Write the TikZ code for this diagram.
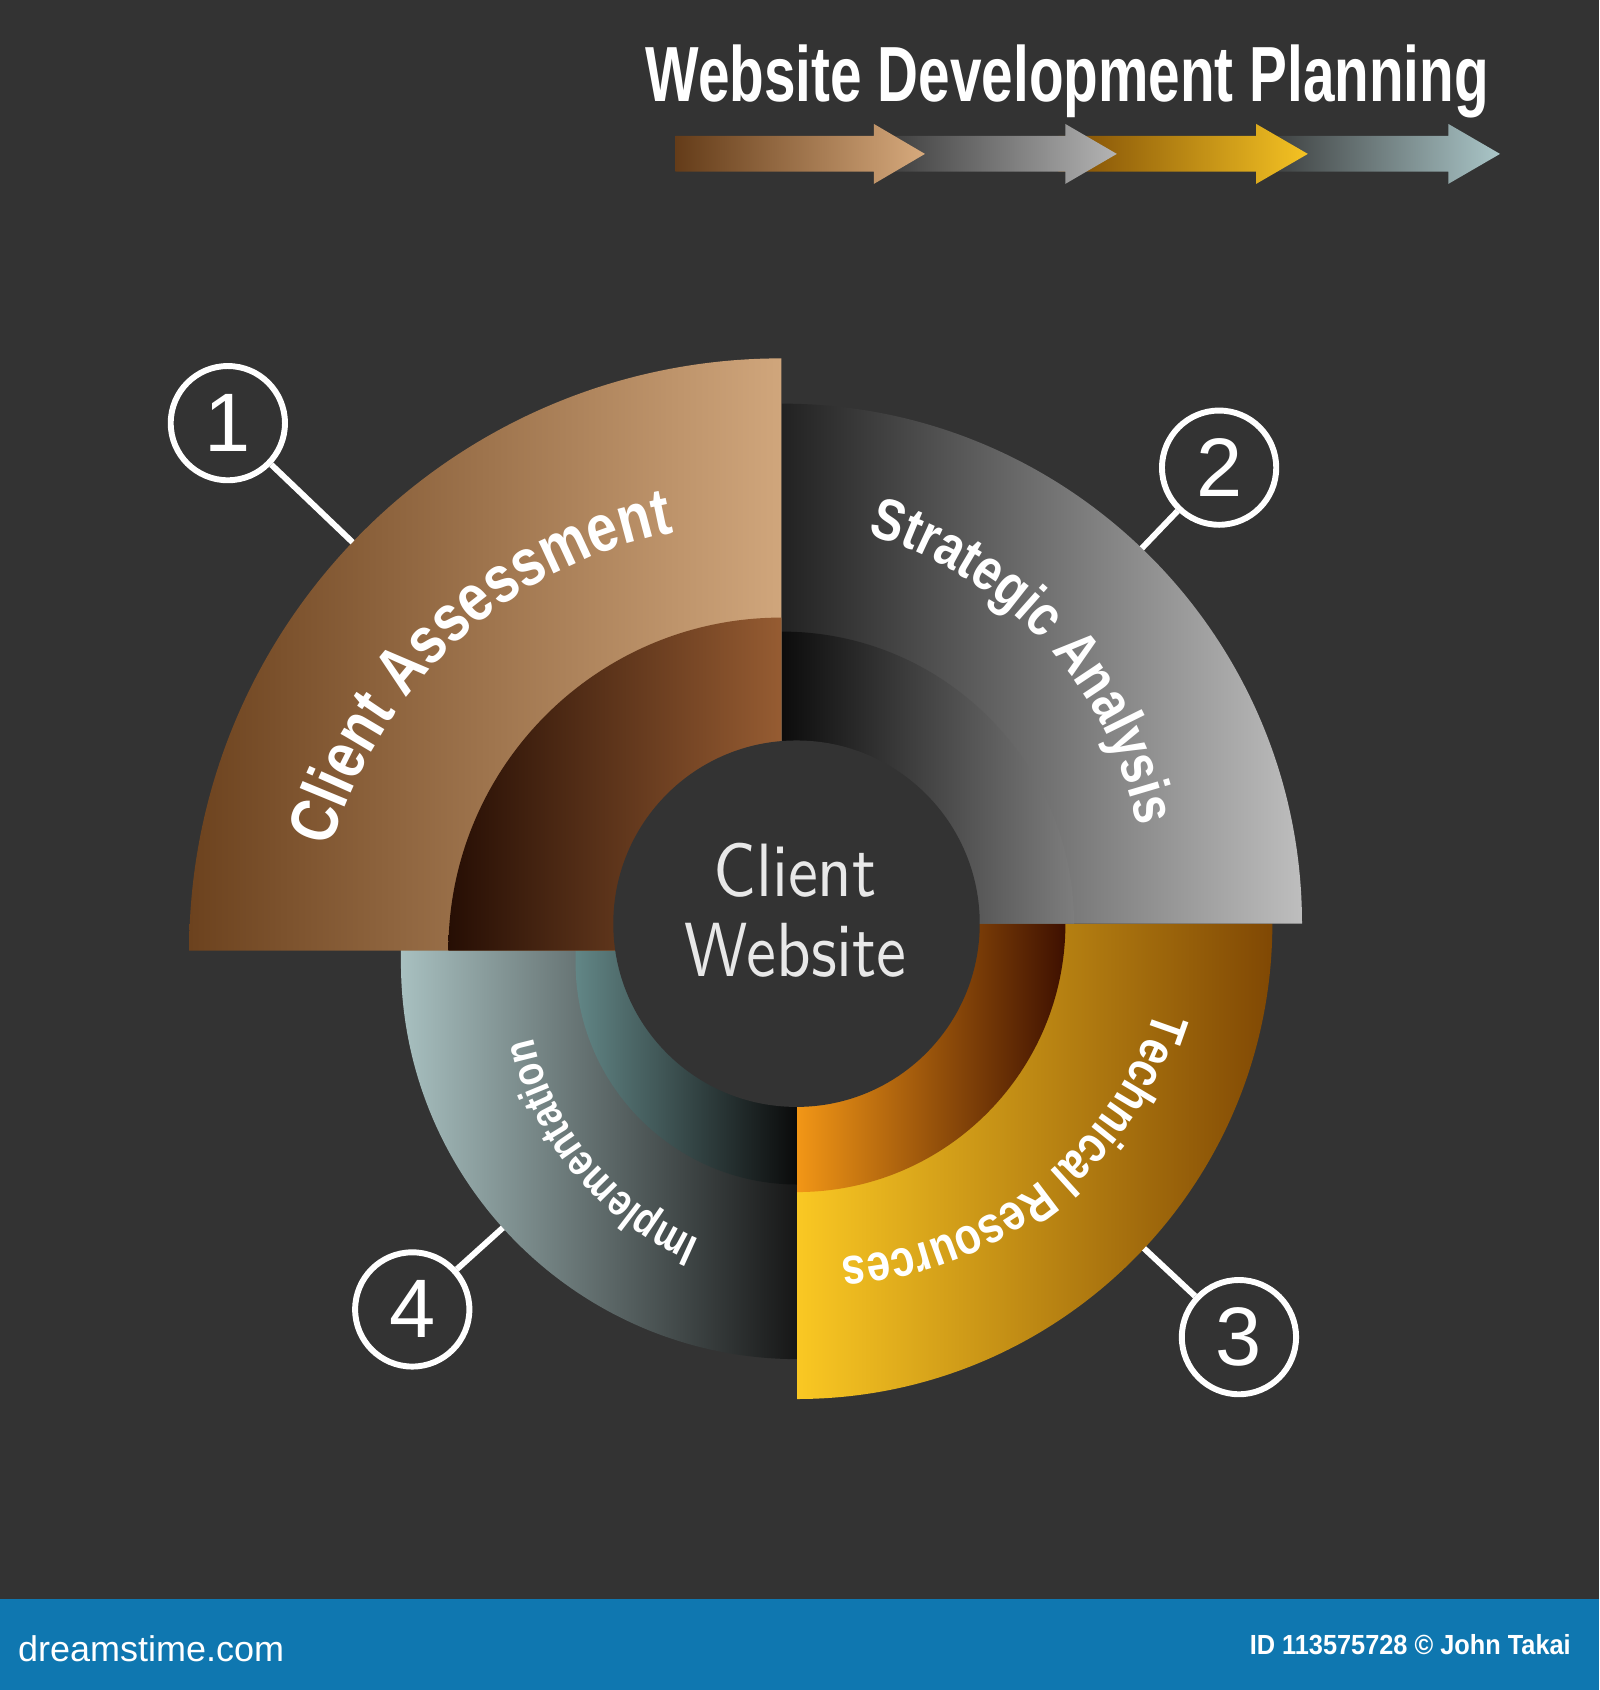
\documentclass[tikz,border=0pt]{standalone}
\usepackage{fontspec}
\usepackage{graphicx}
\usetikzlibrary{decorations.text}
\setmainfont{Liberation Sans}
\newfontfamily\lblfont{Liberation Sans}[FakeStretch=0.82]
\newfontfamily\numfam{Liberation Sans}
\newcommand\lblA{\lblfont\bfseries\fontsize{62}{62}\selectfont\color{white}}
\newcommand\lblB{\lblfont\bfseries\fontsize{54.5}{54.5}\selectfont\color{white}}
\newcommand\lblC{\lblfont\bfseries\fontsize{48}{48}\selectfont\color{white}}
\newcommand\lblD{\lblfont\bfseries\fontsize{41.5}{41.5}\selectfont\color{white}}
\newcommand\numfont{\numfam\fontsize{77}{77}\selectfont}
\definecolor{bgcol}{RGB}{51,51,51}
\definecolor{barcol}{RGB}{15,119,176}
\definecolor{ctext}{RGB}{232,232,232}
\definecolor{soneL}{RGB}{108,66,30}
\definecolor{soneR}{RGB}{208,166,124}
\definecolor{sonei}{RGB}{38,14,4}
\definecolor{soneI}{RGB}{150,92,50}
\definecolor{stwoL}{RGB}{34,34,34}
\definecolor{stwoR}{RGB}{190,190,190}
\definecolor{stwoi}{RGB}{12,12,12}
\definecolor{stwoI}{RGB}{125,125,125}
\definecolor{sthrL}{RGB}{250,200,35}
\definecolor{sthrR}{RGB}{128,72,4}
\definecolor{sthri}{RGB}{242,150,22}
\definecolor{sthrI}{RGB}{62,16,0}
\definecolor{sfouL}{RGB}{168,192,192}
\definecolor{sfouR}{RGB}{22,22,22}
\definecolor{sfoui}{RGB}{98,134,134}
\definecolor{sfouI}{RGB}{10,10,10}
\definecolor{aoneL}{RGB}{100,60,25}
\definecolor{aoneR}{RGB}{215,170,125}
\definecolor{atwoR}{RGB}{180,180,180}
\definecolor{athrL}{RGB}{125,75,5}
\definecolor{athrR}{RGB}{245,195,35}
\definecolor{afouR}{RGB}{170,198,200}
\begin{document}
\begin{tikzpicture}[x=1pt,y=1pt,
  numcirc/.style={circle, draw=white, line width=5.5pt, fill=bgcol, minimum size=106pt, inner sep=0pt, text=white, font=\numfont},
  conn/.style={draw=white, line width=5.5pt},
  plain/.style={anchor=base west, inner sep=0pt}]
\useasboundingbox (0,0) rectangle (1484,-1568);
\fill[bgcol] (0,0) rectangle (1484,-1568);
\fill[barcol] (0,-1484) rectangle (1484,-1568);

% title
\node[plain, text=white] (title) at (599,-94.3) {\resizebox{782pt}{52.6pt}{\bfseries Website Development Planning}};

% arrows (drawn right to left so earlier ones lie on top)
\shade[left color=bgcol, right color=afouR] (1160,-126.1) -- (1343.8,-126.1) -- (1343.8,-115) -- (1391.7,-142.8) -- (1343.8,-170.6) -- (1343.8,-159.3) -- (1160,-159.3) -- cycle;
\shade[left color=athrL, right color=athrR] (982,-126.1) -- (1165.5,-126.1) -- (1165.5,-115) -- (1213.4,-142.8) -- (1165.5,-170.6) -- (1165.5,-159.3) -- (982,-159.3) -- cycle;
\shade[left color=bgcol, right color=atwoR] (804,-126.1) -- (988.4,-126.1) -- (988.4,-115) -- (1036.2,-142.8) -- (988.4,-170.6) -- (988.4,-159.3) -- (804,-159.3) -- cycle;
\shade[left color=aoneL, right color=aoneR] (626.6,-126.1) -- (810.8,-126.1) -- (810.8,-115) -- (858.2,-142.8) -- (810.8,-170.6) -- (810.8,-159.3) -- (626.6,-159.3) -- cycle;

% segment 4 (Implementation)
\shade[left color=sfouL, right color=sfouR] (740,-875) -- (372,-875) -- (372,-893) arc[start angle=180, end angle=270, radius=368] -- cycle;
\shade[left color=sfoui, right color=sfouI] (740,-875) -- (534,-875) -- (534,-893) arc[start angle=180, end angle=270, radius=206] -- cycle;
% segment 3 (Technical Resources)
\shade[left color=sthrL, right color=sthrR] (739.5,-857) -- (1180.5,-857) arc[start angle=0, end angle=-90, radius=441] -- cycle;
\shade[left color=sthri, right color=sthrI] (739.5,-857) -- (988.5,-857) arc[start angle=0, end angle=-90, radius=249] -- cycle;
% segment 2 (Strategic Analysis)
\shade[left color=stwoL, right color=stwoR] (725.5,-857) -- (725.5,-374.5) arc[start angle=90, end angle=0, radius=482.5] -- cycle;
\shade[left color=stwoi, right color=stwoI] (725.5,-857) -- (725.5,-586) arc[start angle=90, end angle=0, radius=271] -- cycle;
% segment 1 (Client Assessment)
\shade[left color=soneL, right color=soneR] (725,-882) -- (175.5,-882) arc[start angle=180, end angle=90, radius=549.5] -- cycle;
\shade[left color=sonei, right color=soneI] (725,-882) -- (416,-882) arc[start angle=180, end angle=90, radius=309] -- cycle;

% centre disc
\fill[bgcol] (739,-857) circle (170);
\node[plain, text=ctext] (ctA) at (661.6,-831.7) {\resizebox{151.5pt}{49.5pt}{\sffamily Client}};
\node[plain, text=ctext] (ctB) at (635.3,-905.8) {\resizebox{205.7pt}{49.4pt}{\sffamily Website}};

% curved labels
\path[decorate, decoration={text along path, text align=center, text={|\lblA|Client Assessment}}]
  plot[domain=0:1, samples=160, variable=\t] ({725+(414+0.45*(65-130*\t))*cos(199-130*\t)}, {-882+(414+0.45*(65-130*\t))*sin(199-130*\t)});
\path[decorate, decoration={text along path, text align=center, text={|\lblB|Strategic Analysis}}]
  plot[domain=0:1, samples=160, variable=\t] ({725.5+(355+0.444*(65-130*\t))*cos(109.4-130*\t)}, {-857+(355+0.444*(65-130*\t))*sin(109.4-130*\t)});
\path[decorate, decoration={text along path, text align=center, text={|\lblC|Technical Resources}}]
  plot[domain=0:1, samples=160, variable=\t] ({739.5+(326+0.429*(70-140*\t))*cos(19.5-140*\t)}, {-857+(326+0.429*(70-140*\t))*sin(19.5-140*\t)});
\path[decorate, decoration={text along path, text align=center, text={|\lblD|Implementation}}]
  plot[domain=0:1, samples=160, variable=\t] ({740+(263+0.324*(60-120*\t))*cos(281.5-120*\t)}, {-893+(263+0.324*(60-120*\t))*sin(281.5-120*\t)});

% numbered markers
\coordinate (p1) at (327.1,-503.1);
\coordinate (p2) at (1059.4,-508.7);
\coordinate (p3) at (1061.5,-1158.3);
\coordinate (p4) at (466.5,-1139.2);
\node[numcirc] (n1) at (211.4,-392.6) {1};
\node[numcirc] (n2) at (1131.1,-433.9) {2};
\node[numcirc] (n3) at (1149.5,-1240.6) {3};
\node[numcirc] (n4) at (382.5,-1214.9) {4};
\draw[conn] (n1) -- (p1);
\draw[conn] (n2) -- (p2);
\draw[conn] (n3) -- (p3);
\draw[conn] (n4) -- (p4);

% footer bar texts
\node[plain, text=white] (ds) at (16.7,-1542) {\resizebox{246.7pt}{24pt}{dreamstime.com}};
\node[plain, text=white] (id) at (1159.4,-1535.1) {\resizebox{297.7pt}{18.6pt}{\bfseries ID 113575728 © John Takai}};
\end{tikzpicture}
\end{document}
